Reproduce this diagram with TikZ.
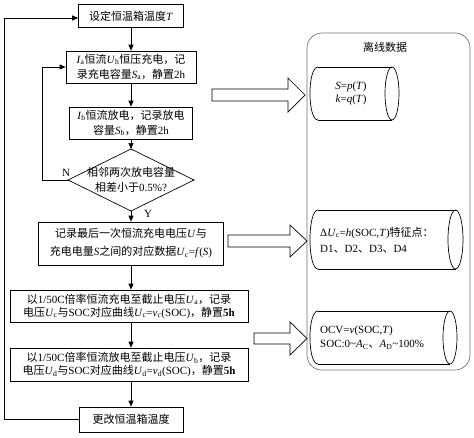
\documentclass[tikz,border=0pt]{standalone}
\usepackage{fontspec}
\setmainfont{Liberation Serif}
\newfontfamily\cjk{Noto Sans CJK SC}
\usetikzlibrary{arrows.meta}
\newcommand\zh[1]{{\cjk #1}}
\newcommand\vi[1]{\textit{#1}}
\newcommand\sub[1]{\textsubscript{#1}}
\newcommand\fs{\fontsize{11}{14}\selectfont}
\begin{document}
\begin{tikzpicture}[x=1pt,y=-1pt,
  box/.style={draw, line width=0.7pt, inner sep=0pt, align=center, font=\fs},
  flow/.style={line width=0.7pt, -{Triangle[length=6pt,width=5pt]}},
  plain/.style={line width=0.7pt},
  blockarrow/.style={draw, line width=0.7pt, fill=white, line join=miter},
  cyl/.style={line width=0.7pt},
  lbl/.style={inner sep=0pt, font=\fs}]
\useasboundingbox (0,0) rectangle (474,437);
\fill[white] (0,0) rectangle (474,437);

% flowchart boxes
\node[box, minimum width=105pt, minimum height=23pt] (b1) at (131,16) {\zh{设定恒温箱温度}\vi{T}};
\node[box, minimum width=130pt, minimum height=32pt] (b2) at (131,67)
  {\vi{I}\sub{a}\zh{恒流}\vi{U}\sub{h}\zh{恒压充电，记}\\[1pt]\zh{录充电容量}\vi{S}\sub{a}\zh{，静置}2h};
\node[box, minimum width=123pt, minimum height=32pt] (b3) at (131,123)
  {\vi{I}\sub{b}\zh{恒流放电，记录放电}\\[1pt]\zh{容量}\vi{S}\sub{b}\zh{，静置}2h};

% decision diamond
\coordinate (dt) at (131,149);
\coordinate (db) at (131,211);
\coordinate (dl) at (68,180);
\coordinate (dr) at (194,180);
\draw[plain] (dt) -- (dr) -- (db) -- (dl) -- cycle;
\node[lbl, align=center] (dtxt) at (131,180) {\zh{相邻两次放电容量}\\[1pt]\zh{相差小于}0.5\%?};

\node[box, minimum width=185pt, minimum height=43pt] (b4) at (131,243.5)
  {\zh{记录最后一次恒流充电电压}\vi{U}\zh{与}\\[4pt]\zh{充电电量}\vi{S}\zh{之间的对应数据}\vi{U}\sub{c}=\vi{f}(\vi{S})};
\node[box, minimum width=238pt, minimum height=32pt] (b5) at (129,306)
  {\zh{以}1/50C\zh{倍率恒流充电至截止电压}\vi{U}\sub{a}\zh{，记录}\\[-1pt]\zh{电压}\vi{U}\sub{c}\zh{与}SOC\zh{对应曲线}\vi{U}\sub{c}=\vi{v}\sub{c}(SOC)\zh{，静置}\textbf{5h}};
\node[box, minimum width=238pt, minimum height=33pt] (b6) at (129,364.5)
  {\zh{以}1/50C\zh{倍率恒流放电至截止电压}\vi{U}\sub{b}\zh{，记录}\\[-1pt]\zh{电压}\vi{U}\sub{d}\zh{与}SOC\zh{对应曲线}\vi{U}\sub{d}=\vi{v}\sub{d}(SOC)\zh{，静置}\textbf{5h}};
\node[box, minimum width=104pt, minimum height=25pt] (b7) at (131,419.5) {\zh{更改恒温箱温度}};

% vertical connectors
\draw[flow] (b1.south) -- (b1.south |- b2.north);
\draw[flow] (b2.south) -- (b2.south |- b3.north);
\draw[flow] (b3.south) -- (dt);
\draw[flow] (db) -- (db |- b4.north);
\draw[flow] (b4.south) -- (b4.south |- b5.north);
\draw[flow] (b4.south |- b5.south) -- (b4.south |- b6.north);
\draw[flow] (b4.south |- b6.south) -- (b7.north);

% loops
\coordinate (lo1) at (4,419.5);
\coordinate (lo2) at (4,18);
\draw[flow] (b7.west) -- (lo1) -- (lo2) -- (lo2 -| b1.west);
\coordinate (li1) at (42,180);
\coordinate (li2) at (42,67);
\draw[flow] (dl) -- (li1) -- (li2) -- (b2.west);
\node[lbl] (nlab) at (66,173) {N};
\node[lbl] (ylab) at (148,214) {Y};

% offline data container
\draw[line width=0.7pt, draw=black!55, rounded corners=15pt] (307,33) rectangle (470,370);
\node[lbl] (title) at (385,47) {\zh{离线数据}};

% cylinder 1
\draw[cyl] (318,67) -- (392,67);
\draw[cyl] (318,120) -- (392,120);
\draw[cyl] (318,67) .. controls (307.3,67) and (307.3,120) .. (318,120);
\draw[cyl] (392,93.5) ellipse [x radius=7pt, y radius=26.5pt];
\node[lbl, align=center] (c1txt) at (351,93.5) {\vi{S}=\vi{p}(\vi{T})\\[-1pt]\vi{k}=\vi{q}(\vi{T})};

% cylinder 2
\draw[cyl] (318,210) -- (455.5,210);
\draw[cyl] (318,269) -- (455.5,269);
\draw[cyl] (318,210) .. controls (307.3,210) and (307.3,269) .. (318,269);
\draw[cyl] (455.5,239.5) ellipse [x radius=7.5pt, y radius=29.5pt];
\node[lbl, align=left, anchor=west] (c2txt) at (320,240)
  {Δ\vi{U}\sub{c}=\vi{h}(SOC,\vi{T})\zh{特征点：}\\[2pt]D1\zh{、}D2\zh{、}D3\zh{、}D4};

% cylinder 3
\draw[cyl] (318,311) -- (450,311);
\draw[cyl] (318,364) -- (450,364);
\draw[cyl] (318,311) .. controls (307.3,311) and (307.3,364) .. (318,364);
\draw[cyl] (450,337.5) ellipse [x radius=7pt, y radius=26.5pt];
\node[lbl, align=left, anchor=west] (c3txt) at (320,337.5)
  {OCV=\vi{v}(SOC,\vi{T})\\[0pt]SOC:0\textasciitilde\vi{A}\sub{C}\zh{、}\vi{A}\sub{D}\textasciitilde100\%};

% block arrows
\draw[blockarrow] (212,89) -- (288,89) -- (288,78) -- (305,95) -- (288,112) -- (288,101) -- (212,101) -- cycle;
\draw[blockarrow] (228,235) -- (290,235) -- (290,225) -- (307,241) -- (290,257) -- (290,247) -- (228,247) -- cycle;
\draw[blockarrow] (254,333) -- (290,333) -- (290,322) -- (307,338.5) -- (290,355) -- (290,344) -- (254,344) -- cycle;
\end{tikzpicture}
\end{document}
